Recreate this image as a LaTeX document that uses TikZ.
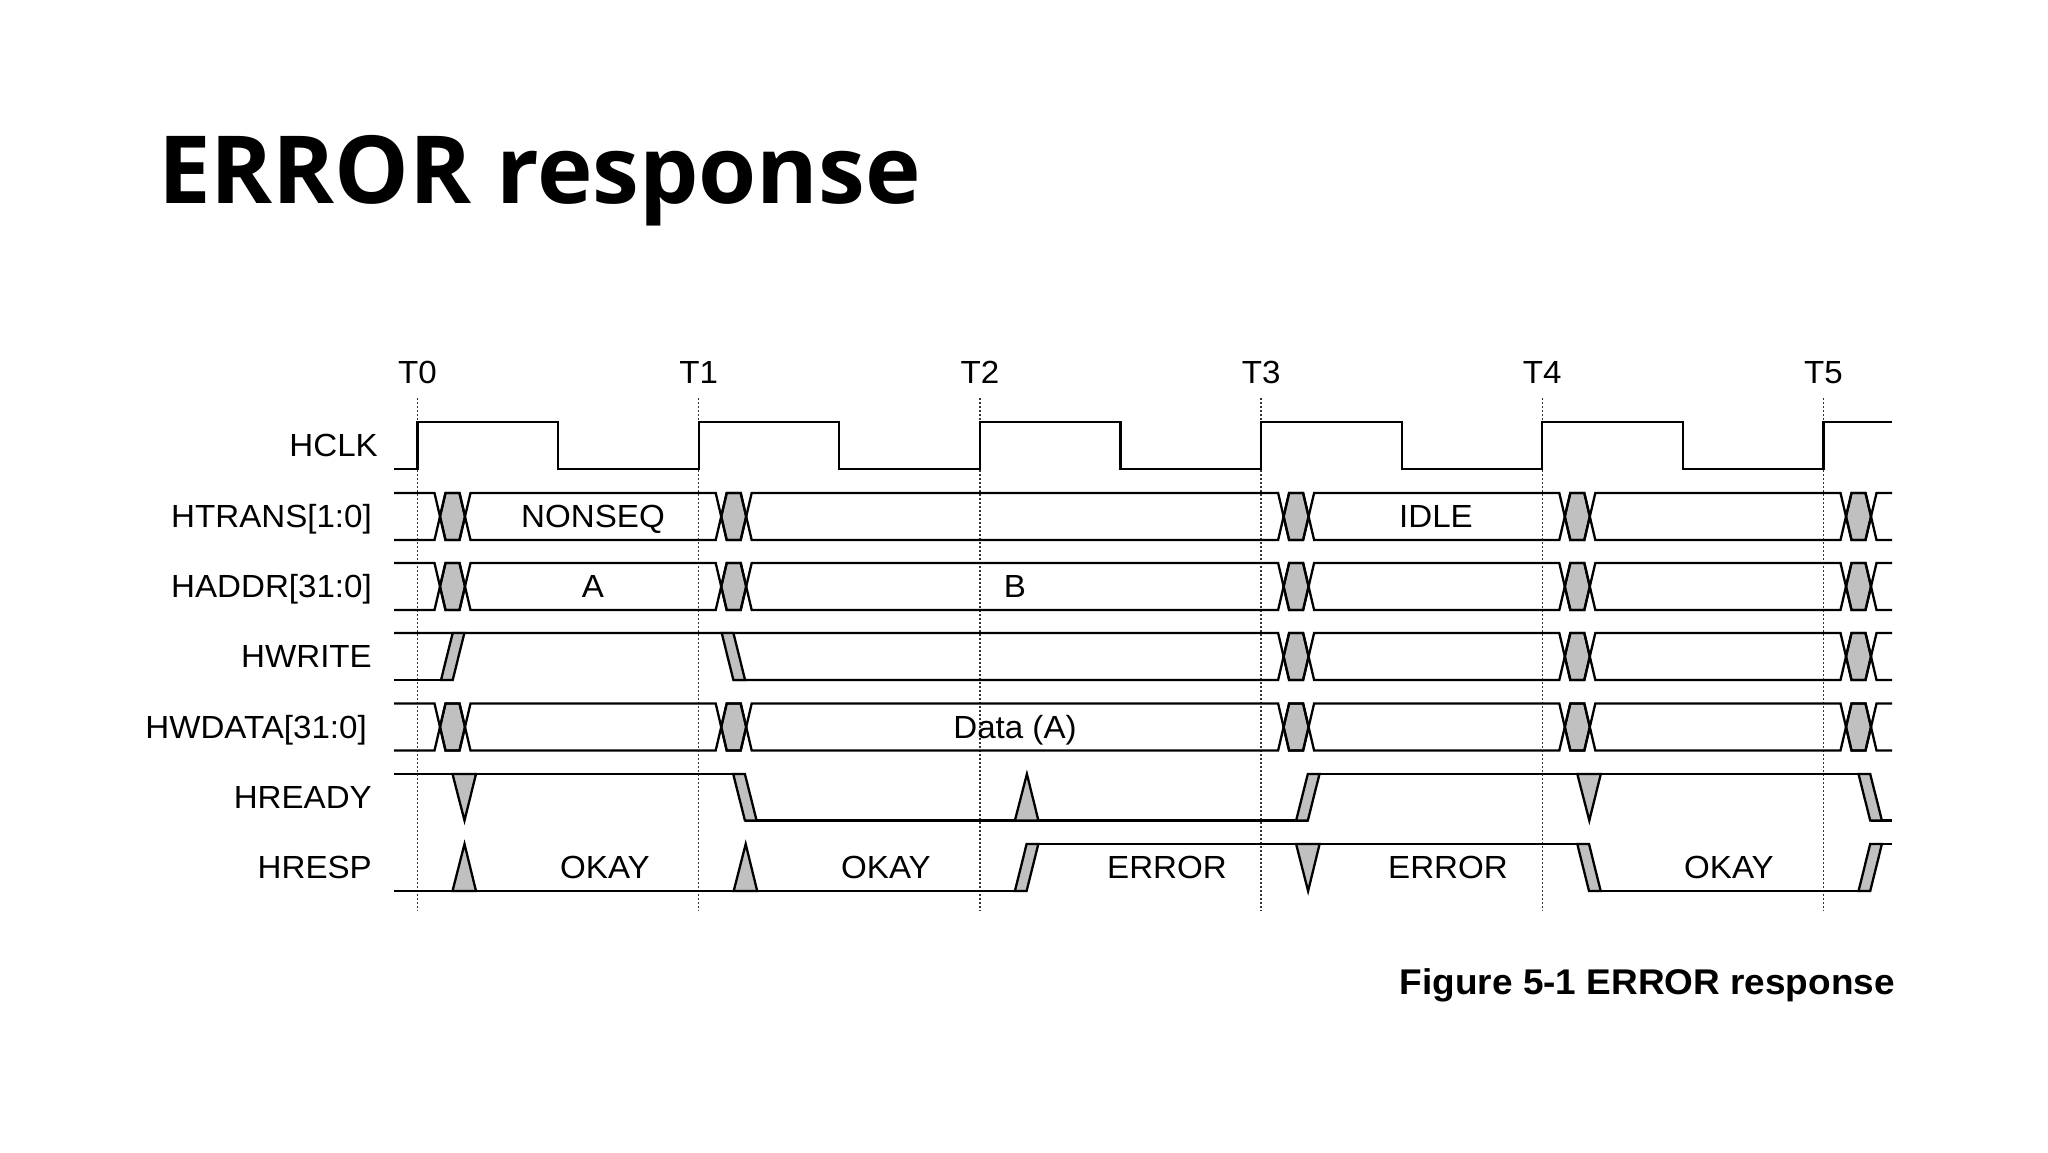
\documentclass[tikz,border=0pt]{standalone}
\usepackage{fontspec}
\setmainfont{Liberation Sans}[FakeStretch=1.035]
\newfontfamily\titlefont{Open Sans}
\def\tzA{417.5}\def\tzB{698.7}\def\tzC{979.9}\def\tzD{1261.1}\def\tzE{1542.3}\def\tzF{1823.5}
\newcommand{\hexfill}[3]{%
  \filldraw[gfill] ({#1+28},#2) -- ({#1+42},#2) -- ({#1+47.5},{(#2+#3)/2}) -- ({#1+42},#3) -- ({#1+28},#3) -- ({#1+22.5},{(#2+#3)/2}) -- cycle;}
\newcommand{\busrow}[3]{%
  \foreach \e in {#3} {\hexfill{\e}{#1}{#2}}
  \draw[sig] (394,#1) \foreach \e in {#3} { -- ({\e+17},#1) -- ({\e+28},#2) -- ({\e+42},#2) -- ({\e+53},#1) } -- (1892,#1);
  \draw[sig] (394,#2) \foreach \e in {#3} { -- ({\e+17},#2) -- ({\e+28},#1) -- ({\e+42},#1) -- ({\e+53},#2) } -- (1892,#2);}
% rise/fall parallelograms: edge, top, bottom, start offset
\newcommand{\riseP}[4]{\filldraw[gfill] ({#1+#4},#3) -- ({#1+#4+11.7},#3) -- ({#1+#4+23.4},#2) -- ({#1+#4+11.7},#2) -- cycle;}
\newcommand{\fallP}[4]{\filldraw[gfill] ({#1+#4},#2) -- ({#1+#4+11.7},#2) -- ({#1+#4+23.4},#3) -- ({#1+#4+11.7},#3) -- cycle;}
\newcommand{\downT}[3]{\filldraw[gfill] ({#1+35},#2) -- ({#1+47},#3) -- ({#1+58.5},#2) -- cycle;}
\newcommand{\upT}[3]{\filldraw[gfill] ({#1+35},#3) -- ({#1+47},#2) -- ({#1+58.5},#3) -- cycle;}
\begin{document}
\begin{tikzpicture}[x=1pt,y=-1pt,
  sig/.style={line width=2.3pt, line join=miter, black},
  gfill/.style={fill={rgb,255:red,192;green,192;blue,192}, draw=black, line width=2.3pt, line join=miter},
  tmark/.style={line width=1.4pt, dash pattern=on 1.6pt off 2.4pt, black!80},
  lbl/.style={font=\fontsize{32}{32}\selectfont, inner sep=0pt},
  capstyle/.style={font=\fontsize{35.7}{35.7}\selectfont\bfseries, inner sep=0pt},
  ttl/.style={font=\fontsize{94}{94}\selectfont\titlefont\bfseries, inner sep=0pt}]
\useasboundingbox (0,0) rectangle (2048,1152);
\fill[white] (0,0) rectangle (2048,1152);
% title and caption
\node[ttl, anchor=base west] (title) at (158,203) {ERROR response};
\node[capstyle, anchor=base east] (caption) at (1895,994) {Figure 5-1 ERROR response};
% time marks
\foreach \t/\n in {\tzA/0,\tzB/1,\tzC/2,\tzD/3,\tzE/4,\tzF/5} {
  \draw[tmark] (\t,398) -- (\t,911);
  \node[lbl, anchor=base] (T\n) at (\t,383) {T\n};
}
% row labels
\node[lbl, anchor=base east] (lclk) at (378,456.5) {HCLK};
\node[lbl, anchor=base east] (ltrans) at (372,527.5) {HTRANS[1:0]};
\node[lbl, anchor=base east] (laddr) at (372,597.5) {HADDR[31:0]};
\node[lbl, anchor=base east] (lwrite) at (372,667.5) {HWRITE};
\node[lbl, anchor=base east] (lwdata) at (367,738) {HWDATA[31:0]};
\node[lbl, anchor=base east] (lready) at (372,808) {HREADY};
\node[lbl, anchor=base east] (lresp) at (372,878.5) {HRESP};
% HCLK
\draw[sig] (394,469) \foreach \t in {\tzA,\tzB,\tzC,\tzD,\tzE} { -- (\t,469) -- (\t,422) -- ({\t+140.6},422) -- ({\t+140.6},469) } -- (\tzF,469) -- (\tzF,422) -- (1892,422);
% HTRANS
\busrow{493}{540}{\tzA,\tzB,\tzD,\tzE,\tzF}
\node[lbl, anchor=base] (vnonseq) at (593,527.5) {NONSEQ};
\node[lbl, anchor=base] (vidle) at (1436,527.5) {IDLE};
% HADDR
\busrow{563}{610}{\tzA,\tzB,\tzD,\tzE,\tzF}
\node[lbl, anchor=base] (va) at (593,597.5) {A};
\node[lbl, anchor=base] (vb) at (1015,597.5) {B};
% HWRITE
\foreach \e in {\tzD,\tzE,\tzF} {\hexfill{\e}{633}{680}}
\draw[sig] (394,633) \foreach \e in {\tzD,\tzE,\tzF} { -- ({\e+17},633) -- ({\e+28},680) -- ({\e+42},680) -- ({\e+53},633) } -- (1892,633);
\draw[sig] (394,680) -- ({\tzA+23.5},680);
\draw[sig] ({\tzB+34.5},680) \foreach \e in {\tzD,\tzE,\tzF} { -- ({\e+17},680) -- ({\e+28},633) -- ({\e+42},633) -- ({\e+53},680) } -- (1892,680);
\riseP{\tzA}{633}{680}{23.5}
\fallP{\tzB}{633}{680}{23}
% HWDATA
\busrow{703.5}{750.5}{\tzA,\tzB,\tzD,\tzE,\tzF}
\node[lbl, anchor=base] (vdata) at (1015,738) {Data (A)};
% HREADY
\draw[sig] (394,774) -- ({\tzB+46},774);
\draw[sig] ({\tzB+46},820.5) -- ({\tzD+47},820.5);
\draw[sig] ({\tzD+47},774) -- ({\tzF+47},774);
\draw[sig] ({\tzF+47},820.5) -- (1892,820.5);
\downT{\tzA}{774}{820.5}
\fallP{\tzB}{774}{820.5}{34.5}
\upT{\tzC}{774}{820.5}
\riseP{\tzD}{774}{820.5}{35}
\downT{\tzE}{774}{820.5}
\fallP{\tzF}{774}{820.5}{35}
% HRESP
\draw[sig] (394,891) -- ({\tzC+47},891);
\draw[sig] ({\tzC+47},844) -- ({\tzE+47},844);
\draw[sig] ({\tzE+47},891) -- ({\tzF+47},891);
\draw[sig] ({\tzF+47},844) -- (1892,844);
\upT{\tzA}{844}{891}
\upT{\tzB}{844}{891}
\riseP{\tzC}{844}{891}{35}
\downT{\tzD}{844}{891}
\fallP{\tzE}{844}{891}{35}
\riseP{\tzF}{844}{891}{35}
\node[lbl, anchor=base] (r1) at (605,878.5) {OKAY};
\node[lbl, anchor=base] (r2) at (886,878.5) {OKAY};
\node[lbl, anchor=base] (r3) at (1167,878.5) {ERROR};
\node[lbl, anchor=base] (r4) at (1448,878.5) {ERROR};
\node[lbl, anchor=base] (r5) at (1729,878.5) {OKAY};
\end{tikzpicture}
\end{document}
